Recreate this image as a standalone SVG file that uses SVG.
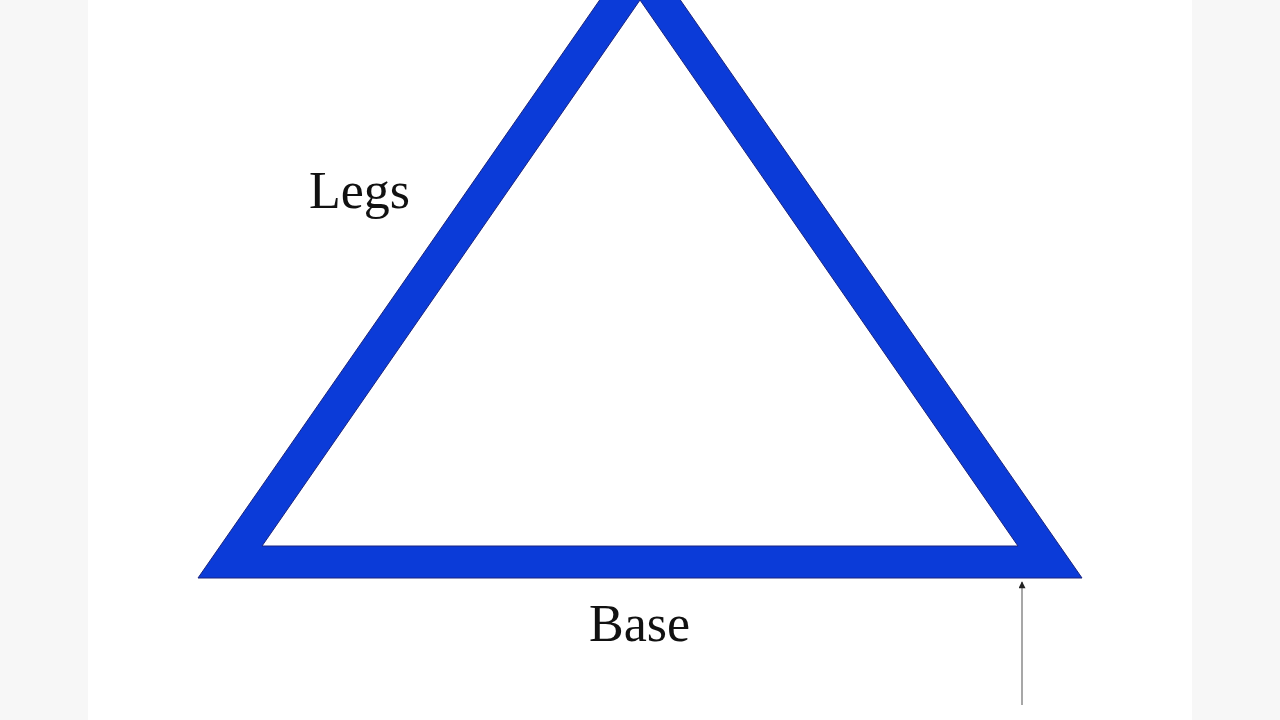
<svg xmlns="http://www.w3.org/2000/svg" width="1280" height="720" viewBox="0 0 1280 720">
  <defs>
    <style>
      .lbl { font-family: "Liberation Serif", "DejaVu Serif", serif; font-size: 52px; fill: #111; }
      .tri { fill: #0b3bd8; fill-rule: evenodd; stroke: #1a2580; stroke-width: 1; }
      .conn { stroke: #8a8a8a; stroke-width: 1.5; fill: none; }
    </style>
    <marker id="arrow" viewBox="0 0 10 10" refX="9" refY="5" markerWidth="8" markerHeight="7" orient="auto" markerUnits="userSpaceOnUse">
      <path d="M0,0 L10,5 L0,10 Z" fill="#222"/>
    </marker>
  </defs>
  <rect x="0" y="0" width="1280" height="720" fill="#f7f7f7"/>
  <rect x="88" y="0" width="1104" height="720" fill="#ffffff"/>
  <g id="triangle">
    <path class="tri" d="M640,-58 L1082,578 L198,578 Z M640,0 L262,546 L1018,546 Z"/>
  </g>
  <g id="legs-label">
    <text class="lbl" x="309" y="208">Legs</text>
  </g>
  <g id="base-label">
    <text class="lbl" x="589" y="641">Base</text>
  </g>
  <g id="connectors">
    <line class="conn" x1="1022" y1="705" x2="1022" y2="582" marker-end="url(#arrow)"/>
  </g>
</svg>
